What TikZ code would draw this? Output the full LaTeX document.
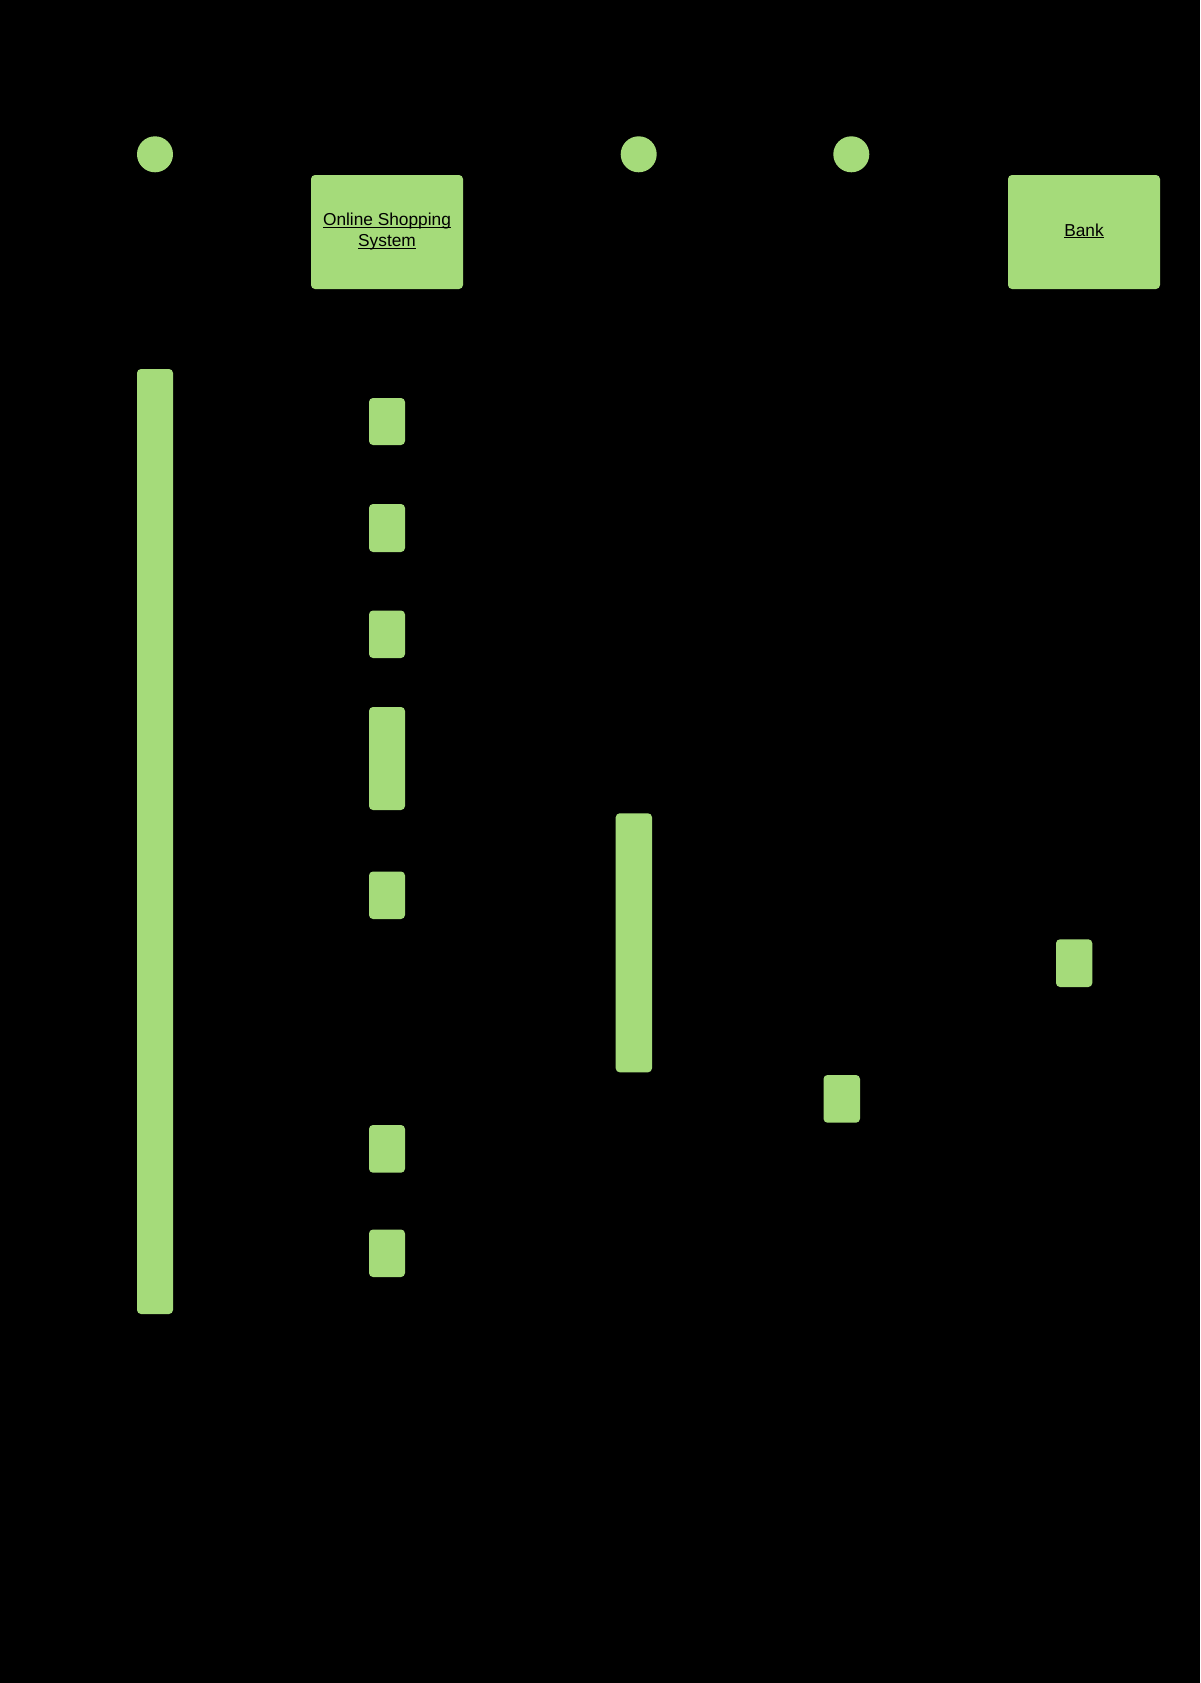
\documentclass[tikz,border=0pt]{standalone}
\usepackage{fontspec}
\setmainfont{Liberation Sans}
\definecolor{lgreen}{RGB}{165,219,122}
\newcommand\myul[1]{\setbox0\hbox{#1}\rlap{\rule[-2.2pt]{\wd0}{1.1pt}}\box0}
\tikzset{
  actbar/.style={fill=lgreen, rounded corners=4pt, draw=none},
  objbox/.style={fill=lgreen, rounded corners=4pt, draw=none},
  actorhead/.style={fill=lgreen, draw=none},
  boxlabel/.style={align=center, font=\fontsize{17.3}{21}\selectfont, text=black, inner sep=0pt}
}
\begin{document}
\begin{tikzpicture}[x=1pt,y=-1pt]
\fill[black] (0,0) rectangle (1200,1683);
\useasboundingbox (0,0) rectangle (1200,1683);
% actor heads
\fill[actorhead] (155,154.3) circle (18);
\fill[actorhead] (638.7,154.3) circle (18);
\fill[actorhead] (851.3,154.3) circle (18);
% object boxes
\fill[objbox] (311,175) rectangle (463,289);
\node[boxlabel] (oss) at (387,232) {\myul{Online Shopping}\\\myul{System}};
\fill[objbox] (1008,175) rectangle (1160,289);
\node[boxlabel] (bank) at (1084,231) {\myul{Bank}};
% actor 1 activation
\fill[actbar] (137,369) rectangle (173,1314);
% OSS activations
\fill[actbar] (369,398) rectangle (405,445);
\fill[actbar] (369,504) rectangle (405,552);
\fill[actbar] (369,610.5) rectangle (405,658);
\fill[actbar] (369,707) rectangle (405,810);
\fill[actbar] (369,871.5) rectangle (405,919);
\fill[actbar] (369,1125) rectangle (405,1172.7);
\fill[actbar] (369,1229.5) rectangle (405,1277);
% actor 2 activation
\fill[actbar] (615.7,813.3) rectangle (652,1072.3);
% actor 3 activation
\fill[actbar] (823.5,1075) rectangle (860,1122.7);
% bank activation
\fill[actbar] (1056,939.3) rectangle (1092.3,987);
\end{tikzpicture}
\end{document}
